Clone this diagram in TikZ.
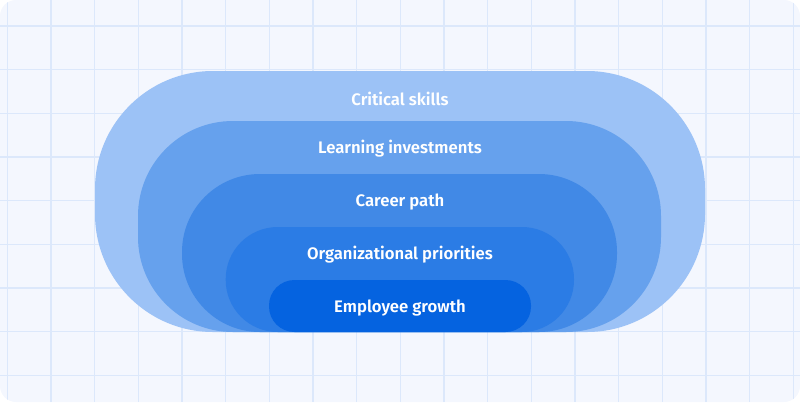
\documentclass[tikz,border=0pt]{standalone}
\usepackage{fontspec}
\setmainfont{Fira Sans}[BoldFont={Fira Sans SemiBold}]

\definecolor{bgblue}{HTML}{F4F7FE}
\definecolor{gridblue}{HTML}{DCE8FB}
\definecolor{ringA}{HTML}{9CC2F6}
\definecolor{ringB}{HTML}{66A1ED}
\definecolor{ringC}{HTML}{4189E6}
\definecolor{ringD}{HTML}{2B7CE5}
\definecolor{ringE}{HTML}{0563E0}

\tikzset{
  gridline/.style={gridblue,line width=1.2pt},
  ringlabel/.style={text=white,font=\fontsize{16.7}{20}\selectfont\bfseries}
}

\begin{document}
\begin{tikzpicture}[x=1pt,y=-1pt]
    \useasboundingbox (0,0) rectangle (800,402);
    \fill[bgblue,rounded corners=16pt](0,0) rectangle (800,402);
    \begin{scope}
        \clip[rounded corners=16pt](0,0) rectangle (800,402);
        \foreach \i in {0,...,18}
            \draw[gridline]({7.3+43.67*\i},0)--({7.3+43.67*\i},402);
        \foreach \j in {0,...,8}
            \draw[gridline](0,{26+43.67*\j})--(800,{26+43.67*\j});
    \end{scope}
    % nested rings, outside in
    \foreach \l/\t/\r/\rad/\col/\n/\ty/\txt in {
        95/71/705/118/ringA/skills/99/Critical skills,
        138/121/661/95/ringB/invest/149/Learning investments,
        182/174/617/78/ringC/career/202/Career path,
        225.7/227/574/52/ringD/priority/255/Organizational priorities,
        269/280/531/25.5/ringE/growth/308/Employee growth}{
        \fill[\col,rounded corners=\rad pt](\l,\t) rectangle (\r,332);
        \node[ringlabel](\n) at (400,\ty){\txt};
    }
\end{tikzpicture}
\end{document}
